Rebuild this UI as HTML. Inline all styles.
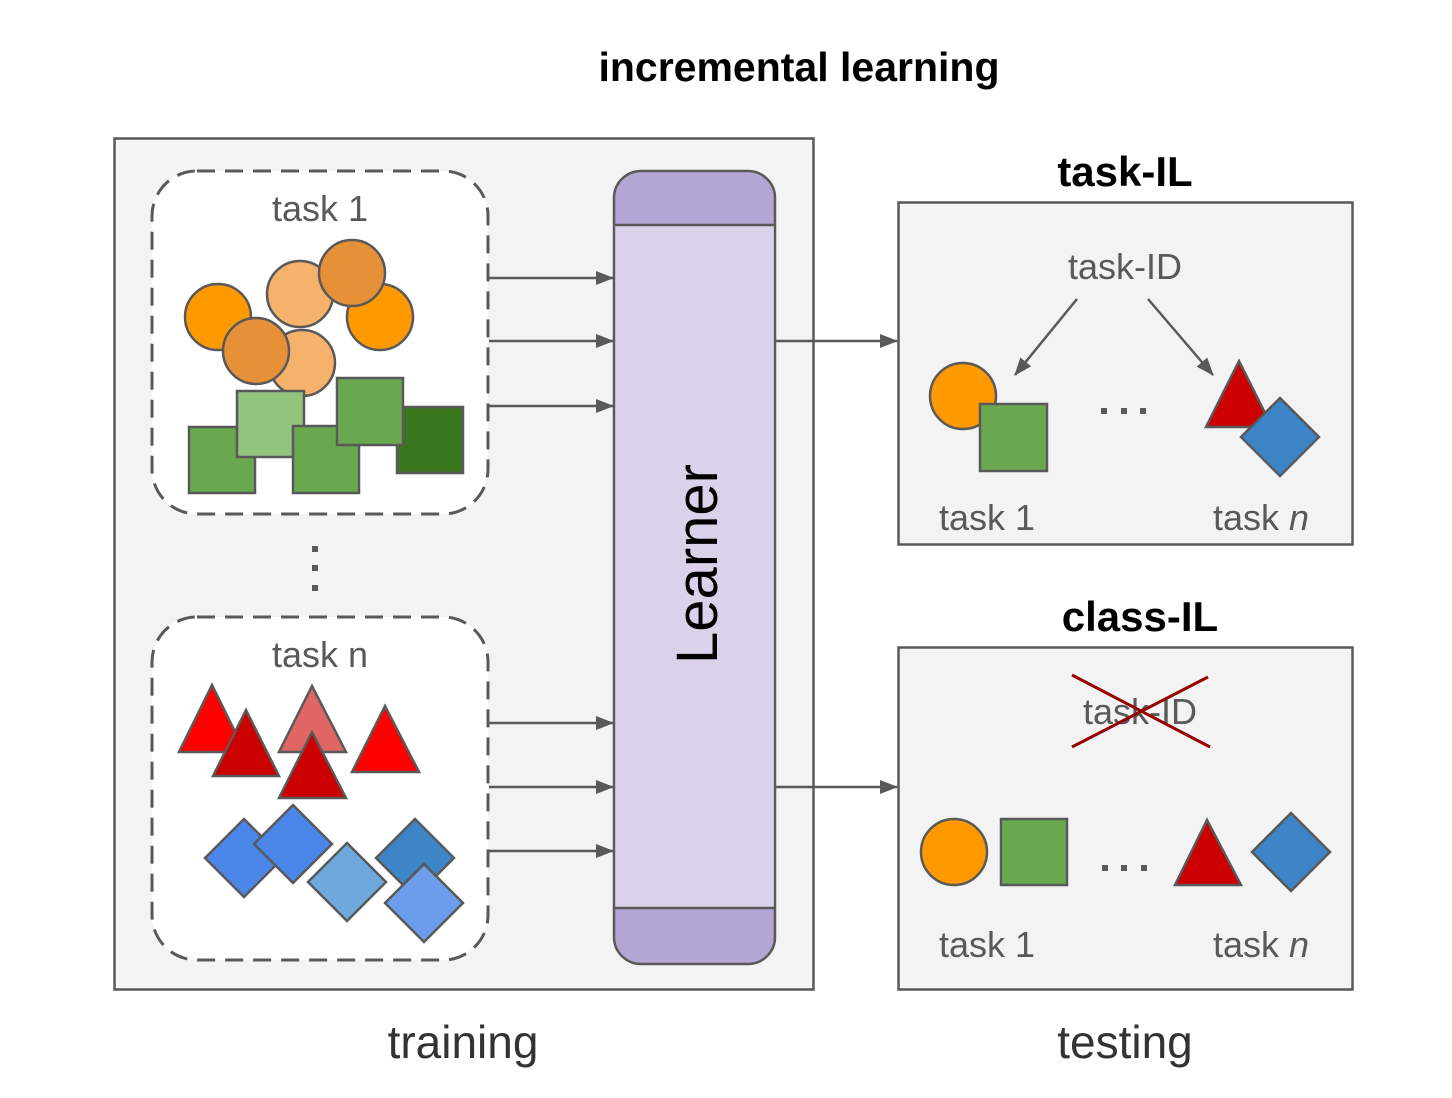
<!DOCTYPE html>
<html><head><meta charset="utf-8"><style>html,body{margin:0;padding:0;background:#fff}svg{display:block}</style></head>
<body>
<svg width="1452" height="1098" viewBox="0 0 1452 1098" xmlns="http://www.w3.org/2000/svg" font-family="Liberation Sans, Arial, sans-serif">
<defs>
<marker id="ah2" markerWidth="18" markerHeight="14" refX="17" refY="7" orient="auto" markerUnits="userSpaceOnUse" viewBox="0 0 18 14">
<path d="M0,0 L18,7 L0,14 z" fill="#595959"/></marker>
</defs>
<text x="799" y="81" text-anchor="middle" font-size="41" font-weight="bold">incremental learning</text>

<!-- training box -->
<rect x="114.5" y="138.5" width="699" height="851" fill="#f3f3f3" stroke="#595959" stroke-width="2.5"/>
<rect x="152" y="171" width="336" height="343" rx="45" fill="#fff" stroke="#595959" stroke-width="3" stroke-dasharray="18,10"/>
<rect x="152" y="617" width="336" height="343" rx="45" fill="#fff" stroke="#595959" stroke-width="3" stroke-dasharray="18,10"/>
<text x="320" y="221" text-anchor="middle" font-size="36" fill="#595959">task 1</text>
<text x="320" y="667" text-anchor="middle" font-size="36" fill="#595959">task n</text>

<g stroke="#595959" stroke-width="2.5">
<circle cx="218" cy="317" r="33" fill="#ff9900"/>
<circle cx="300" cy="294" r="33" fill="#f6b26b"/>
<circle cx="380" cy="317" r="33" fill="#ff9900"/>
<circle cx="352" cy="273" r="33" fill="#e69138"/>
<circle cx="302" cy="363" r="33" fill="#f6b26b"/>
<circle cx="256" cy="351" r="33" fill="#e69138"/>
<rect x="189" y="427" width="66" height="66" fill="#6aa84f"/>
<rect x="237" y="391" width="67" height="66" fill="#93c47d"/>
<rect x="293" y="426" width="66" height="67" fill="#6aa84f"/>
<rect x="397" y="407" width="66" height="66" fill="#38761d"/>
<rect x="337" y="378" width="66" height="67" fill="#6aa84f"/>

<polygon points="212,685 179,752 245,752" fill="#ff0000"/>
<polygon points="246,710 213,776 279,776" fill="#cc0000"/>
<polygon points="312,686 279,752 346,752" fill="#e06666"/>
<polygon points="312,732 279,798 346,798" fill="#cc0000"/>
<polygon points="385,706 352,772 419,772" fill="#ff0000"/>
<polygon points="244,819 283,858 244,897 205,858" fill="#4a86e8"/>
<polygon points="293,805 332,844 293,883 254,844" fill="#4a86e8"/>
<polygon points="347,843 386,882 347,921 308,882" fill="#6fa8dc"/>
<polygon points="415,819 454,858 415,897 376,858" fill="#3d85c6"/>
<polygon points="424,864 463,903 424,942 385,903" fill="#6d9eeb"/>
</g>
<g fill="#595959"><rect x="312" y="546" width="6" height="6"/><rect x="312" y="565" width="6" height="6"/><rect x="312" y="585" width="6" height="6"/></g>

<g stroke="#595959" stroke-width="2.5" marker-end="url(#ah2)">
<line x1="489" y1="278" x2="613" y2="278"/>
<line x1="489" y1="341" x2="613" y2="341"/>
<line x1="489" y1="406" x2="613" y2="406"/>
<line x1="489" y1="723" x2="613" y2="723"/>
<line x1="489" y1="787" x2="613" y2="787"/>
<line x1="489" y1="851" x2="613" y2="851"/>
<line x1="776" y1="341" x2="897" y2="341"/>
<line x1="776" y1="787" x2="897" y2="787"/>
</g>

<rect x="614" y="171" width="161" height="793" rx="27" fill="#b4a7d6" stroke="#595959" stroke-width="2.5"/>
<rect x="615.3" y="225" width="158.5" height="683" fill="#d9d2e9"/>
<line x1="614" y1="225" x2="775" y2="225" stroke="#595959" stroke-width="2.5"/>
<line x1="614" y1="908" x2="775" y2="908" stroke="#595959" stroke-width="2.5"/>
<text transform="translate(717,564) rotate(-90)" text-anchor="middle" font-size="58" fill="#000">Learner</text>

<text x="1125" y="186" text-anchor="middle" font-size="42" font-weight="bold">task-IL</text>
<rect x="898.5" y="202.5" width="454" height="342" fill="#f3f3f3" stroke="#595959" stroke-width="2.5"/>
<text x="1125" y="279" text-anchor="middle" font-size="36" fill="#595959">task-ID</text>
<g stroke="#595959" stroke-width="2.5" marker-end="url(#ah2)">
<line x1="1077" y1="299" x2="1015" y2="375"/>
<line x1="1148" y1="299" x2="1213" y2="375"/>
</g>
<g stroke="#595959" stroke-width="2.5">
<circle cx="963" cy="396" r="33" fill="#ff9900"/>
<rect x="980" y="404" width="67" height="67" fill="#6aa84f"/>
<polygon points="1239,361 1206,427 1272,427" fill="#cc0000"/>
<polygon points="1280,398 1319,437 1280,476 1241,437" fill="#3d85c6"/>
</g>
<g fill="#595959"><rect x="1101" y="408" width="6" height="6"/><rect x="1121" y="408" width="6" height="6"/><rect x="1140" y="408" width="6" height="6"/></g>
<text x="939" y="530" font-size="36" fill="#595959">task 1</text>
<text x="1213" y="530" font-size="36" fill="#595959">task <tspan font-style="italic">n</tspan></text>

<text x="1140" y="631" text-anchor="middle" font-size="42" font-weight="bold">class-IL</text>
<rect x="898.5" y="647.5" width="454" height="342" fill="#f3f3f3" stroke="#595959" stroke-width="2.5"/>
<text x="1140" y="724" text-anchor="middle" font-size="36" fill="#595959">task-ID</text>
<g stroke="#990000" stroke-width="3">
<line x1="1072" y1="675" x2="1210" y2="747"/>
<line x1="1072" y1="747" x2="1208" y2="677"/>
</g>
<g stroke="#595959" stroke-width="2.5">
<circle cx="954" cy="852" r="33" fill="#ff9900"/>
<rect x="1001" y="819" width="66" height="66" fill="#6aa84f"/>
<polygon points="1207,820 1175,885 1241,885" fill="#cc0000"/>
<polygon points="1291,813 1330,852 1291,891 1252,852" fill="#3d85c6"/>
</g>
<g fill="#595959"><rect x="1102" y="865" width="6" height="6"/><rect x="1121" y="865" width="6" height="6"/><rect x="1141" y="865" width="6" height="6"/></g>
<text x="939" y="957" font-size="36" fill="#595959">task 1</text>
<text x="1213" y="957" font-size="36" fill="#595959">task <tspan font-style="italic">n</tspan></text>

<text x="463" y="1058" text-anchor="middle" font-size="46" fill="#333">training</text>
<text x="1125" y="1058" text-anchor="middle" font-size="46" fill="#333">testing</text>
</svg>
</body></html>
